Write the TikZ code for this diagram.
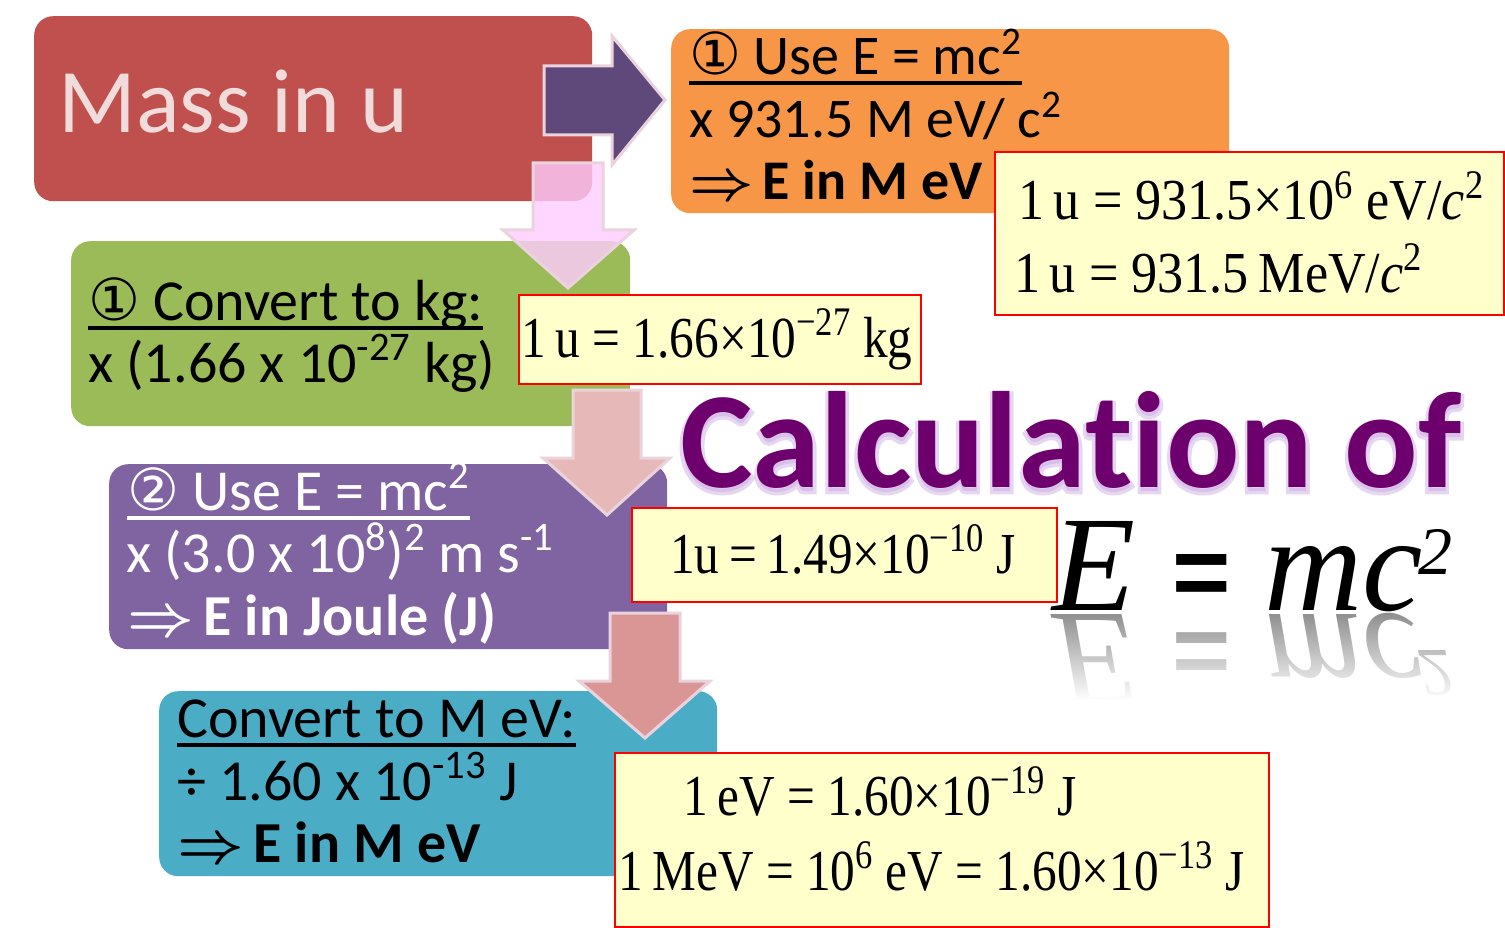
\RequirePackage{fix-cm}
\documentclass[tikz,border=0pt]{standalone}
\usepackage{fontspec}
\setmainfont{Carlito}[Ligatures=NoCommon]
\newfontfamily\glowfont{Carlito}[Ligatures=NoCommon, BoldFeatures={FakeBold=5}]
\newfontfamily\dejavu{DejaVu Sans}
\newfontfamily\tnr[FakeStretch=0.85]{Liberation Serif}
\newfontfamily\tnrwide[FakeStretch=0.9]{Liberation Serif}
\newfontfamily\tnrplain{Liberation Serif}
\newfontfamily\libsans{Liberation Sans}
\usetikzlibrary{fadings}
\definecolor{massred}{HTML}{C0504D}
\definecolor{masstext}{HTML}{F2DCDB}
\definecolor{orangebox}{HTML}{F79646}
\definecolor{greenbox}{HTML}{9BBB59}
\definecolor{purplebox}{HTML}{8064A2}
\definecolor{bluebox}{HTML}{4BACC6}
\definecolor{arrowpurple}{HTML}{5F497A}
\definecolor{arrowpink}{HTML}{FFCCFF}
\definecolor{arrowrose}{HTML}{E6B9B8}
\definecolor{arrowdrose}{HTML}{D99694}
\definecolor{arrowedge}{HTML}{EBD3DE}
\definecolor{ynote}{HTML}{FFFFCC}
\definecolor{titlepurple}{HTML}{6E006E}
\definecolor{glowc}{HTML}{C9A6E0}
\newcommand\myul[1]{\setbox0\hbox{#1}\rlap{\rule[-10pt]{\wd0}{4pt}}\box0}
\newcommand\circd[1]{{\dejavu\fontsize{58}{58}\selectfont #1}}
\newcommand\darr{{\boldmath$\Rightarrow$}}
\tikzfading[name=reflfade, top color=transparent!100, bottom color=transparent!0]
\tikzset{
  cbox/.style={rounded corners=19pt, anchor=north west, inner sep=0pt, draw=none},
  ybox/.style={anchor=north west, inner sep=0pt, fill=ynote, draw=red, line width=2pt},
  line/.style={anchor=base west, inner sep=0pt, font=\fontsize{58}{58}\selectfont},
  oline/.style={anchor=base west, inner sep=0pt, font=\fontsize{56}{56}\selectfont},
  fml/.style={inner sep=0pt, font=\tnr\fontsize{58}{58}\selectfont},
  fmlw/.style={inner sep=0pt, font=\tnrwide\fontsize{58}{58}\selectfont},
  blockarrow/.style={draw=arrowedge, line width=3pt, line join=miter},
  titletext/.style={anchor=base west, inner sep=0pt, font=\bfseries\fontsize{137}{137}\selectfont},
  emc/.style={anchor=base west, inner sep=0pt, font=\tnrplain\itshape\fontsize{136}{136}\selectfont},
  eqsign/.style={anchor=base, inner sep=0pt, font=\libsans\bfseries\fontsize{100}{100}\selectfont},
  sqtwo/.style={anchor=base west, inner sep=0pt, font=\tnrplain\itshape\fontsize{68}{68}\selectfont},
}
\begin{document}
\begin{tikzpicture}[x=1pt,y=-1pt]
\useasboundingbox (0,0) rectangle (1505,928);
\fill[white] (0,0) rectangle (1505,928);

% coloured boxes
\node[cbox, fill=massred, minimum width=558pt, minimum height=185pt] (mass) at (34,16) {};
\node[cbox, fill=orangebox, minimum width=558pt, minimum height=184pt] (orange) at (671,29) {};
\node[cbox, fill=greenbox, minimum width=559pt, minimum height=185pt] (green) at (71,241) {};
\node[cbox, fill=purplebox, minimum width=558pt, minimum height=185pt] (purple) at (109,464) {};
\node[cbox, fill=bluebox, minimum width=558pt, minimum height=185pt] (blue) at (159,691) {};

% texts in boxes
\node[anchor=base west, inner sep=0pt, text=masstext, font=\fontsize{91}{91}\selectfont] (massT) at (58,133) {Mass in u};

\node[oline] (o1) at (689,75) {\myul{\circd{①} Use E = mc\textsuperscript{2}}};
\node[oline] (o2) at (689,138) {x 931.5 M eV/ c\textsuperscript{2}};
\node[oline] (o3) at (689,200) {\darr\,\textbf{E in M eV}};

\node[line] (g1) at (88,320) {\myul{\circd{①} Convert to kg:}};
\node[line] (g2) at (88,382) {x (1.66 x 10\textsuperscript{-27} kg)};

\node[line, text=white] (p1) at (127,510) {\myul{\circd{②} Use E = mc\textsuperscript{2}}};
\node[line, text=white] (p2) at (126,572) {x (3.0 x 10\textsuperscript{8})\textsuperscript{2} m s\textsuperscript{-1}};
\node[line, text=white] (p3) at (127,635) {\darr\,\textbf{E in Joule (J)}};

\node[line] (b1) at (177,737) {\myul{Convert to M eV:}};
\node[line] (b2) at (177,800) {÷ 1.60 x 10\textsuperscript{-13} J};
\node[line] (b3) at (177,862) {\darr\,\textbf{E in M eV}};

% block arrows
\draw[blockarrow, fill=arrowpurple] (544,66) -- (612,66) -- (612,36) -- (665,100) -- (612,165) -- (612,135) -- (544,135) -- cycle;
\draw[blockarrow, fill=arrowpink, fill opacity=0.8] (533,163) -- (603,163) -- (603,230) -- (634,230) -- (568,288) -- (503,230) -- (533,230) -- cycle;
\draw[blockarrow, fill=arrowrose] (573,390) -- (641,390) -- (641,458) -- (670,458) -- (607,515) -- (543,458) -- (573,458) -- cycle;
\draw[blockarrow, fill=arrowdrose] (610,613) -- (680,613) -- (680,681) -- (710,681) -- (645,738) -- (579,681) -- (610,681) -- cycle;

% yellow formula boxes
\node[ybox, minimum width=402pt, minimum height=89pt] (ua) at (518,294) {};
\node[fml, anchor=base] (uaT) at (717,357) {1\,u = 1.66×10\textsuperscript{−27} kg};

\node[ybox, minimum width=509pt, minimum height=163pt] (ub) at (994,151) {};
\node[fmlw, anchor=base west] (ub1) at (1018,220) {1\,u = 931.5×10\textsuperscript{6} eV/\textit{c}\textsuperscript{2}};
\node[fmlw, anchor=base west] (ub2) at (1014,292) {1\,u = 931.5\,MeV/\textit{c}\textsuperscript{2}};

\node[ybox, minimum width=425pt, minimum height=94pt] (uc) at (631,507) {};
\node[fml, anchor=base] (ucT) at (843,573) {1u\,=\,1.49×10\textsuperscript{−10} J};

\node[ybox, minimum width=654pt, minimum height=174pt] (ud) at (614,752) {};
\node[fml, anchor=base west] (ud1) at (683,815) {1\,eV = 1.60×10\textsuperscript{−19} J};
\node[fml, anchor=base west] (ud2) at (618,890) {1\,MeV = 10\textsuperscript{6} eV = 1.60×10\textsuperscript{−13} J};

% title with glow
\node[titletext, text=glowc, opacity=0.45, font=\glowfont\bfseries\fontsize{137}{137}\selectfont] (glow) at (680,491) {Calculation of};
\node[titletext, text=titlepurple] (title) at (680,487) {Calculation of};

% E = mc^2 and its reflection
\node[emc] (E) at (1052,610) {E};
\node[eqsign] (eq) at (1202,606) {=};
\node[emc] (mc) at (1264,610) {mc};
\node[sqtwo] (two) at (1418,574) {2};
\begin{scope}[yshift=-1224pt, yscale=-1, transform shape]
\node[emc, text=black!45] (Er) at (1052,610) {E};
\node[eqsign, text=black!45] (eqr) at (1202,606) {=};
\node[emc, text=black!45] (mcr) at (1264,610) {mc};
\node[sqtwo, text=black!45] (twor) at (1418,574) {2};
\end{scope}
\fill[white, path fading=reflfade] (1040,611) rectangle (1475,700);
\fill[white] (1040,700) rectangle (1475,745);
\end{tikzpicture}
\end{document}
